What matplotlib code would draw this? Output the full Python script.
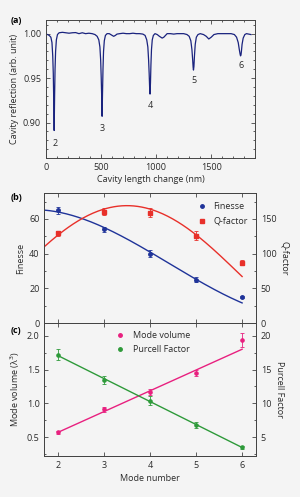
import numpy as np
import matplotlib.pyplot as plt
from matplotlib.ticker import MultipleLocator
from matplotlib.lines import Line2D

# ---- panel (a): cavity reflection trace
trace_nm = [15, 30, 45, 55, 62, 67, 71, 75, 79, 83, 88, 95, 105, 120, 150, 180, 210, 240,
            270, 300, 330, 360, 390, 420, 445, 465, 480, 490, 497, 502, 506, 510, 514, 518,
            523, 530, 540, 555, 575, 595, 615, 630, 645, 670, 700, 730, 760, 790, 820, 850,
            880, 900, 915, 925, 932, 937, 941, 945, 949, 953, 958, 965, 975, 990, 1010, 1030,
            1055, 1070, 1085, 1100, 1130, 1160, 1190, 1220, 1250, 1280, 1300, 1315, 1325,
            1332, 1336, 1339, 1343, 1348, 1355, 1365, 1380, 1400, 1430, 1455, 1478, 1500,
            1525, 1560, 1600, 1640, 1680, 1710, 1730, 1745, 1755, 1762, 1766, 1770, 1774,
            1780, 1790, 1805, 1820, 1840, 1860]
trace_refl = [0.999, 0.998, 0.996, 0.990, 0.975, 0.955, 0.925, 0.891, 0.930, 0.960, 0.980,
              0.993, 0.999, 1.001, 1.0015, 1.001, 1.0005, 1.001, 1.0012, 1.000, 1.001, 1.000,
              1.0005, 1.000, 0.999, 0.997, 0.993, 0.985, 0.970, 0.950, 0.930, 0.907, 0.935,
              0.960, 0.980, 0.992, 0.998, 1.000, 1.000, 0.9985, 0.997, 0.998, 0.9995, 1.000,
              1.0005, 1.000, 1.000, 1.0005, 1.000, 1.000, 0.9995, 0.998, 0.993, 0.985, 0.970,
              0.955, 0.940, 0.932, 0.945, 0.965, 0.982, 0.993, 0.998, 1.000, 0.999, 0.997,
              0.995, 0.996, 0.998, 1.000, 1.000, 0.9995, 1.000, 1.000, 1.000, 0.999, 0.997,
              0.992, 0.982, 0.970, 0.962, 0.959, 0.963, 0.975, 0.988, 0.996, 0.999, 1.000,
              0.999, 0.997, 0.994, 0.996, 0.999, 1.000, 1.000, 1.000, 1.000, 0.999, 0.996,
              0.990, 0.982, 0.977, 0.975, 0.976, 0.980, 0.988, 0.995, 0.999, 1.000, 0.9995, 0.999]
dip_labels = ['2', '3', '4', '5', '6']
dip_label_nm = [82, 515, 948, 1345, 1770]
dip_label_refl = [0.876, 0.893, 0.919, 0.947, 0.964]

# ---- panels (b), (c)
modes = [2, 3, 4, 5, 6]
finesse = [65, 54, 40, 25, 15]
finesse_err = [2, 1.5, 2, 1.5, 0.8]
qfactor = [129, 160, 159, 126, 87]
qfactor_err = [4, 5, 7, 7, 4]
# fit curves
fin_curve_x = [1.7, 2, 3, 4, 5, 6]
fin_curve_y = [64.7, 64.4, 55, 40.5, 25.5, 11.5]
q_curve_x = [1.7, 2, 3, 3.4, 4, 5, 6]
q_curve_y = [110, 127, 164, 169, 164, 127, 67]

mode_volume = [0.57, 0.91, 1.17, 1.45, 1.94]
mode_volume_err = [0.02, 0.04, 0.04, 0.05, 0.10]
purcell = [17.2, 13.4, 10.4, 6.8, 3.5]
purcell_err = [0.8, 0.6, 0.7, 0.4, 0.2]

plt.rcParams['font.family'] = ['Open Sans', 'DejaVu Sans']
plt.rcParams['font.size'] = 6.5
bg = '#f4f4f4'
txt = '#2a2a2a'
navy = '#1a237e'
blue = '#1f3399'
red = '#e8302a'
pink = '#e8207f'
green = '#2e9a3a'

fig = plt.figure(figsize=(3.0, 4.97), dpi=100, facecolor=bg)


def style(ax):
    ax.set_facecolor(bg)
    ax.tick_params(which='both', direction='in', width=0.6, colors='#444444', labelcolor=txt)
    ax.tick_params(which='major', length=3)
    ax.tick_params(which='minor', length=1.5)
    for s in ax.spines.values():
        s.set_linewidth(0.7)
        s.set_color('#444444')


def marker_legend(ax, items, **kw):
    handles = [Line2D([], [], ls='none', marker=m, ms=2.5, color=c) for m, c, _ in items]
    ax.legend(handles, [lab for _, _, lab in items], frameon=False, fontsize=6.5,
              handlelength=1.0, labelcolor=txt, **kw)


# (a)
axa = fig.add_axes([0.153, 0.682, 0.698, 0.278])
axa.plot(trace_nm, trace_refl, color=navy, lw=0.9)
for lab, xx, yy in zip(dip_labels, dip_label_nm, dip_label_refl):
    axa.text(xx, yy, lab, ha='center', va='center', fontsize=6.5, color=txt)
axa.set_xlim(0, 1900)
axa.set_ylim(0.86, 1.0155)
axa.xaxis.set_major_locator(MultipleLocator(500))
axa.xaxis.set_minor_locator(MultipleLocator(100))
axa.yaxis.set_minor_locator(MultipleLocator(0.01))
axa.set_yticks([0.90, 0.95, 1.00])
axa.yaxis.set_major_formatter(plt.FormatStrFormatter('%.2f'))
axa.tick_params(top=True, right=True, which='both')
axa.set_xlabel('Cavity length change (nm)', labelpad=2, color=txt)
axa.set_ylabel('Cavity reflection (arb. unit)', labelpad=3, color=txt)
style(axa)
fig.text(0.035, 0.958, '(a)', fontweight='bold', fontsize=6.5, va='center')

# (b)
axb = fig.add_axes([0.148, 0.350, 0.705, 0.262])
axb2 = axb.twinx()
xs = np.linspace(1.7, 6.0, 200)
fin_fit = np.polyval(np.polyfit(fin_curve_x, fin_curve_y, 3), xs)
q_fit = np.polyval(np.polyfit(q_curve_x, q_curve_y, 4), xs)
axb.plot(xs, fin_fit, color=blue, lw=1.0)
axb2.plot(xs, q_fit, color=red, lw=1.0)
axb.errorbar(modes, finesse, yerr=finesse_err, fmt='o', ms=2.5, color=blue, elinewidth=0.6,
             capsize=1.2, capthick=0.6)
axb2.errorbar(modes, qfactor, yerr=qfactor_err, fmt='s', ms=2.3, color=red, elinewidth=0.6,
              capsize=1.2, capthick=0.6)
axb.set_xlim(1.7, 6.3)
axb.set_ylim(0, 75)
axb2.set_ylim(0, 187.5)
axb.set_xticks(modes)
axb.tick_params(labelbottom=False, top=True)
axb.yaxis.set_major_locator(MultipleLocator(20))
axb.yaxis.set_minor_locator(MultipleLocator(10))
axb2.yaxis.set_major_locator(MultipleLocator(50))
axb2.yaxis.set_minor_locator(MultipleLocator(25))
axb.set_ylabel('Finesse', labelpad=3, color=txt)
axb2.set_ylabel('Q-factor', rotation=270, labelpad=9, color=txt)
style(axb)
style(axb2)
marker_legend(axb2, [('o', blue, 'Finesse'), ('s', red, 'Q-factor')],
              loc='upper right', bbox_to_anchor=(1.0, 0.99), handletextpad=0.8,
              labelspacing=0.6)
fig.text(0.035, 0.602, '(b)', fontweight='bold', fontsize=6.5, va='center')

# (c)
axc = fig.add_axes([0.148, 0.0825, 0.705, 0.2675])
axc2 = axc.twinx()
xl = np.array([2.0, 6.0])
mv_fit = np.polyval(np.polyfit(modes, mode_volume, 1, w=1 / np.array(mode_volume_err)), xl)
pf_fit = np.polyval(np.polyfit(modes, purcell, 1), xl)
axc.plot(xl, mv_fit, color=pink, lw=1.0)
axc2.plot(xl, pf_fit, color=green, lw=1.0)
axc.errorbar(modes, mode_volume, yerr=mode_volume_err, fmt='o', ms=2.3, color=pink,
             elinewidth=0.6, capsize=1.2, capthick=0.6)
axc2.errorbar(modes, purcell, yerr=purcell_err, fmt='o', ms=2.3, color=green,
              elinewidth=0.6, capsize=1.2, capthick=0.6)
axc.set_xlim(1.7, 6.3)
axc.set_ylim(0.22, 2.19)
axc2.set_ylim(2.2, 21.9)
axc.set_xticks(modes)
axc.tick_params(top=True)
axc.yaxis.set_major_locator(MultipleLocator(0.5))
axc.yaxis.set_minor_locator(MultipleLocator(0.25))
axc.yaxis.set_major_formatter(plt.FormatStrFormatter('%.1f'))
axc2.yaxis.set_major_locator(MultipleLocator(5))
axc2.yaxis.set_minor_locator(MultipleLocator(2.5))
axc.set_xlabel('Mode number', labelpad=3, color=txt)
axc.set_ylabel('Mode volume (λ$^3$)', labelpad=3, color=txt)
axc2.set_ylabel('Purcell Factor', rotation=270, labelpad=9, color=txt)
style(axc)
style(axc2)
marker_legend(axc2, [('o', pink, 'Mode volume'), ('o', green, 'Purcell Factor')],
              loc='upper left', bbox_to_anchor=(0.3, 1.0), handletextpad=0.9,
              labelspacing=0.5)
fig.text(0.035, 0.336, '(c)', fontweight='bold', fontsize=6.5, va='center')

fig.savefig('out.png', dpi=100, facecolor=bg)
